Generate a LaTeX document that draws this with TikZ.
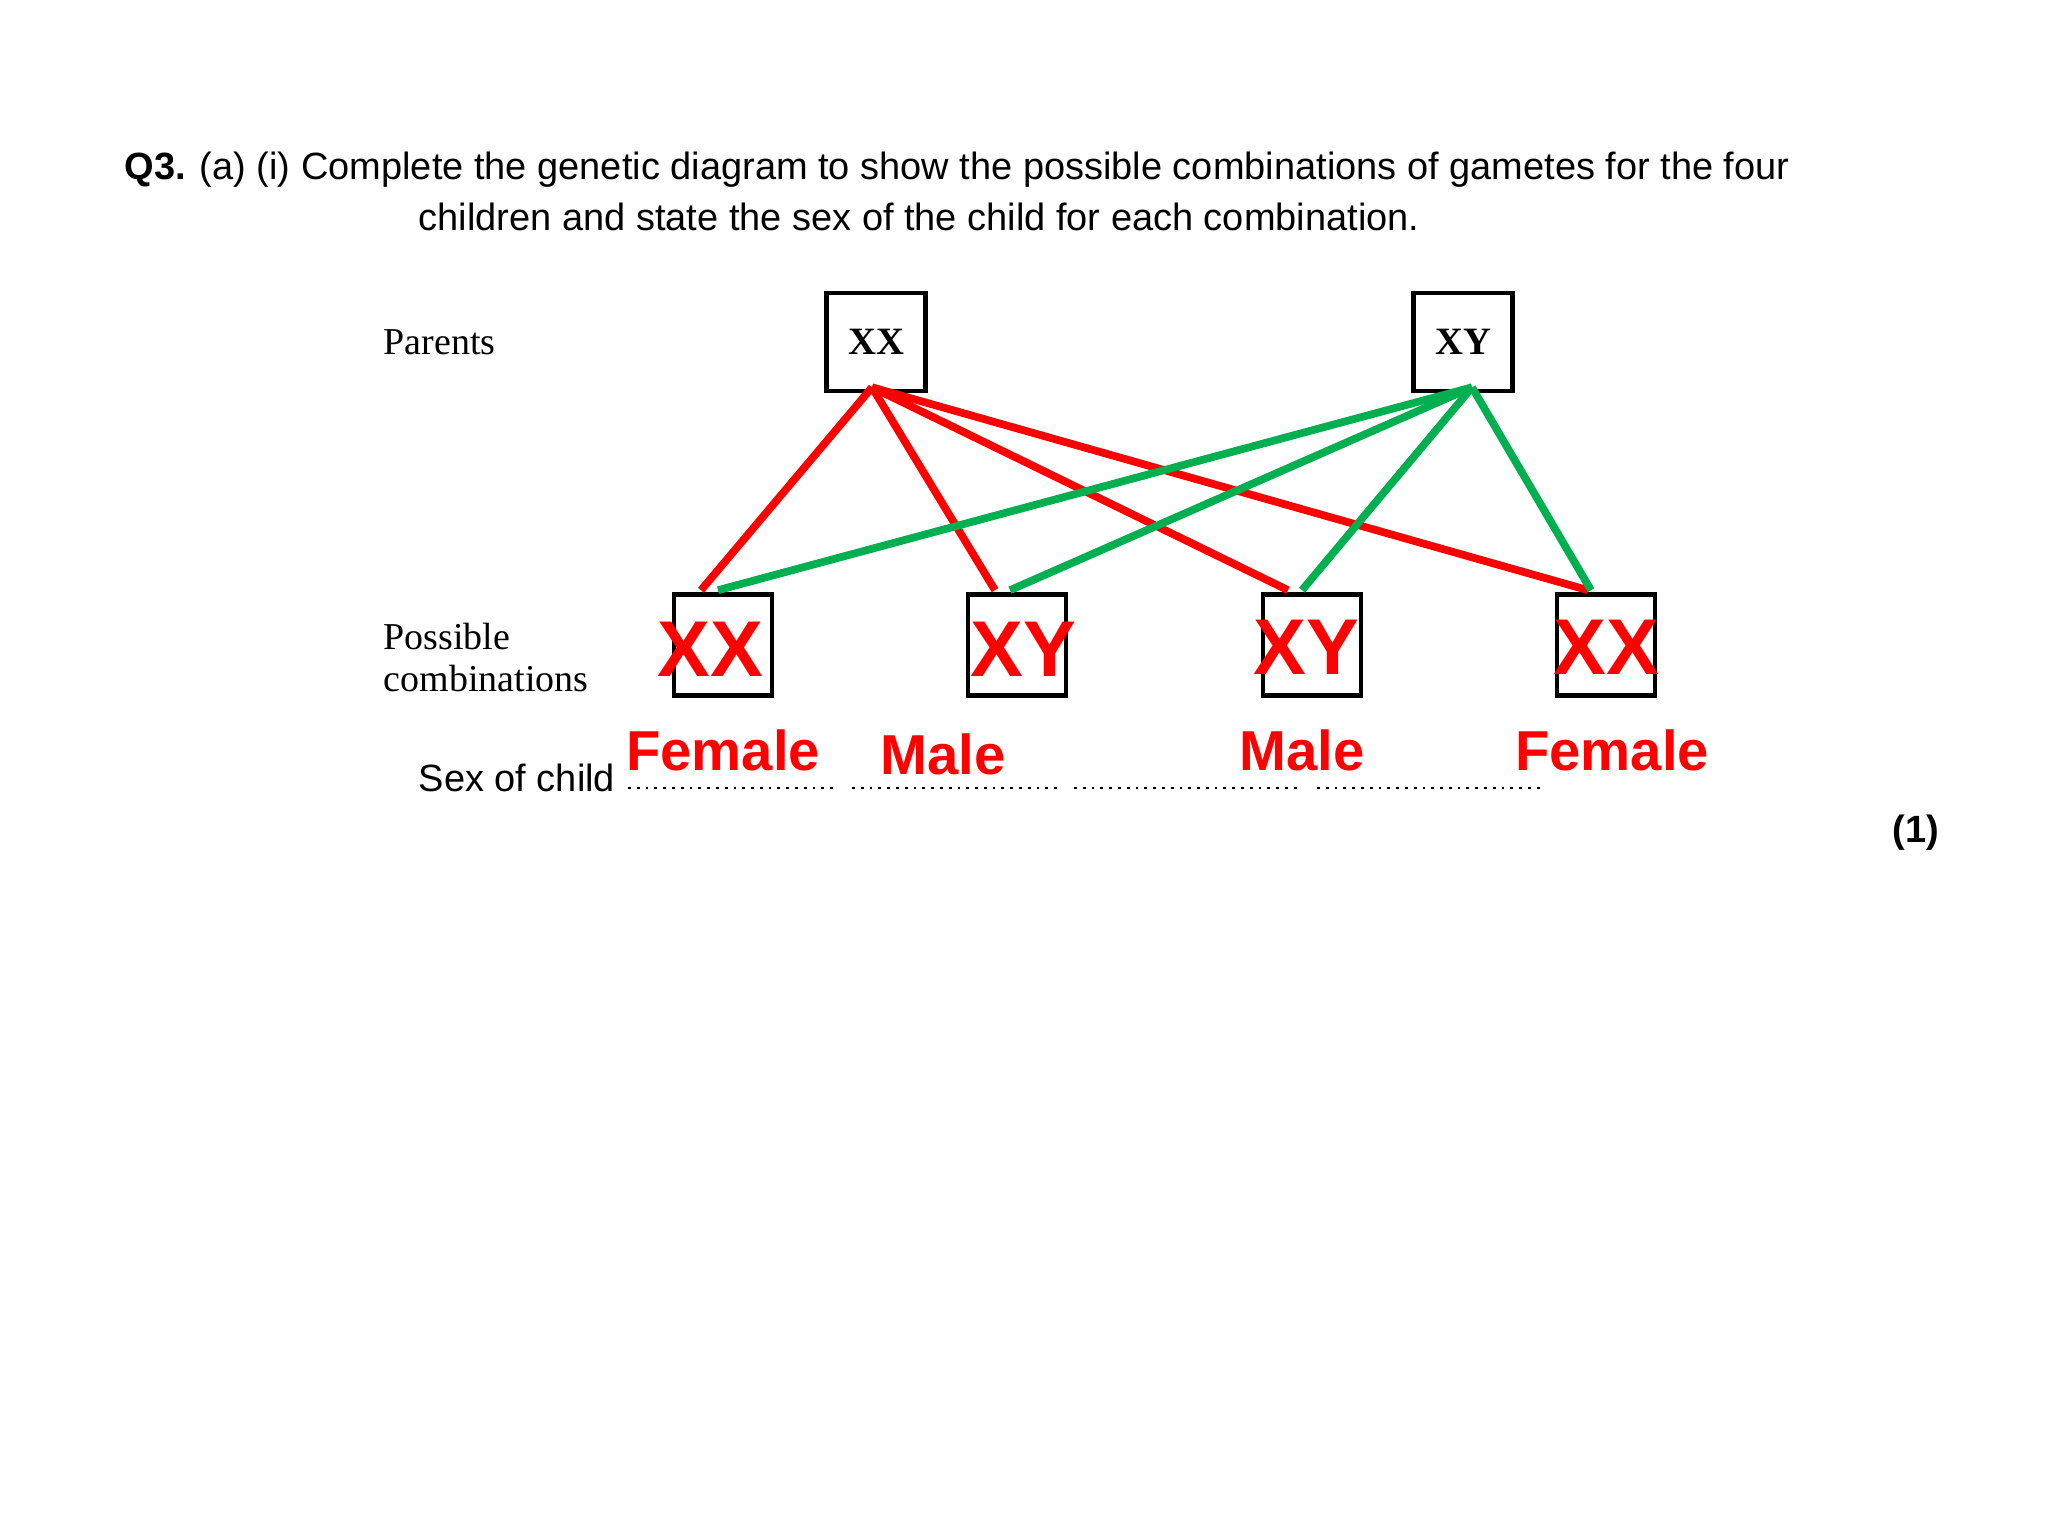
\documentclass[tikz,border=0pt]{standalone}
\usepackage{fontspec}
\setmainfont{Liberation Serif}
\setsansfont{Liberation Sans}
\usetikzlibrary{positioning}

\begin{document}
\begin{tikzpicture}[x=0.01cm,y=-0.01cm]
	\tikzstyle{parbox}=[draw,line width=1.3pt,minimum width=0.99cm,minimum height=0.98cm,inner sep=0pt,font=\fontsize{11}{13}\selectfont\bfseries]
	\tikzstyle{kidbox}=[draw,line width=1.3pt,minimum width=0.98cm,minimum height=1.01cm,inner sep=0pt]
	\tikzstyle{answer}=[text=red,inner sep=0pt,font=\sffamily\bfseries\fontsize{16}{18}\selectfont]
	\tikzstyle{bigans}=[text=red,inner sep=0pt,font=\sffamily\bfseries\fontsize{22.5}{24}\selectfont]
	\tikzstyle{redline}=[line width=2.2pt,color=red]
	\tikzstyle{greenline}=[line width=2.2pt,color={rgb,255:red,0;green,176;blue,80}]
	\tikzstyle{label}=[inner sep=0pt,anchor=base west,font=\fontsize{10.8}{13}\selectfont]

	\useasboundingbox (0,0) rectangle (2048,1536);

	\node (q1) [anchor=base west,inner sep=0pt,font=\sffamily\fontsize{10.8}{13}\selectfont] at (124,179) {\textbf{Q3.} (a) (i) Complete the genetic diagram to show the possible combinations of gametes for the four};
	\node (q2) [anchor=base west,inner sep=0pt,font=\sffamily\fontsize{10.8}{13}\selectfont] at (418,230) {children and state the sex of the child for each combination.};

	\node (parents) [label] at (383,354) {Parents};
	\node (poss) [label] at (383,649) {Possible};
	\node (comb) [label] at (383,691) {combinations};

	\node (xxpar) [parbox] at (876,342) {XX};
	\node (xypar) [parbox] at (1463,342) {XY};

	\node (kid1) [kidbox] at (723,645) {};
	\node (kid2) [kidbox] at (1017,645) {};
	\node (kid3) [kidbox] at (1312,645) {};
	\node (kid4) [kidbox] at (1606,645) {};

	\draw [redline] ([xshift=-0.04cm,yshift=0.06cm]xxpar.south) -- ([xshift=-0.22cm,yshift=0.02cm]kid1.north);
	\draw [redline] ([xshift=-0.04cm,yshift=0.06cm]xxpar.south) -- ([xshift=-0.22cm,yshift=0.02cm]kid2.north);
	\draw [redline] ([xshift=-0.04cm,yshift=0.06cm]xxpar.south) -- ([xshift=-0.24cm,yshift=0.02cm]kid3.north);
	\draw [redline] ([xshift=-0.04cm,yshift=0.06cm]xxpar.south) -- ([xshift=-0.18cm,yshift=0.02cm]kid4.north);
	\draw [greenline] ([xshift=0.09cm,yshift=0.06cm]xypar.south) -- ([xshift=-0.05cm,yshift=0.02cm]kid1.north);
	\draw [greenline] ([xshift=0.09cm,yshift=0.06cm]xypar.south) -- ([xshift=-0.07cm,yshift=0.02cm]kid2.north);
	\draw [greenline] ([xshift=0.09cm,yshift=0.06cm]xypar.south) -- ([xshift=-0.10cm,yshift=0.02cm]kid3.north);
	\draw [greenline] ([xshift=0.09cm,yshift=0.06cm]xypar.south) -- ([xshift=-0.15cm,yshift=0.02cm]kid4.north);

	\node (g1) [bigans] at (710,649) {XX};
	\node (g2) [bigans] at (1023,649) {XY};
	\node (g3) [bigans] at (1306,647) {XY};
	\node (g4) [bigans] at (1606,647) {XX};

	\node (sex) [anchor=base west,inner sep=0pt,font=\sffamily\fontsize{10.8}{13}\selectfont] at (418,791) {Sex of child};
	\coordinate (d1a) at (628,788);
	\coordinate (d1b) at (836,788);
	\coordinate (d2a) at (852,788);
	\coordinate (d2b) at (1058,788);
	\coordinate (d3a) at (1074,788);
	\coordinate (d3b) at (1302,788);
	\coordinate (d4a) at (1317,788);
	\coordinate (d4b) at (1545,788);
	\draw [line width=0.8pt,dash pattern=on 0.8pt off 1.7pt] (d1a) -- (d1b) (d2a) -- (d2b) (d3a) -- (d3b) (d4a) -- (d4b);

	\node (s1) [answer] at (723,750) {Female};
	\node (s2) [answer] at (943,754) {Male};
	\node (s3) [answer] at (1302,750) {Male};
	\node (s4) [answer] at (1612,750) {Female};

	\node (mark) [anchor=base,inner sep=0pt,font=\sffamily\bfseries\fontsize{10.8}{13}\selectfont] at (1916,842) {(1)};
\end{tikzpicture}
\end{document}
